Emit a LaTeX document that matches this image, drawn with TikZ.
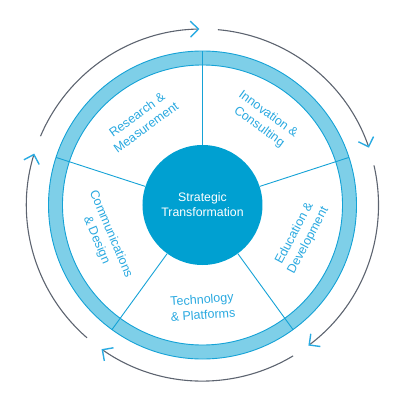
\documentclass[tikz,border=0pt]{standalone}
\usepackage{fontspec}
\setmainfont{Liberation Sans}
\usetikzlibrary{arrows.meta}
\definecolor{corefill}{HTML}{00A0D1}
\definecolor{bandfill}{HTML}{7ECFE8}
\definecolor{rimblue}{HTML}{15A2D6}
\definecolor{labelblue}{HTML}{2AA9E0}
\definecolor{arcgray}{HTML}{5D6470}
\definecolor{tipblue}{HTML}{29ABE2}
\tikzset{
  rim/.style={draw=rimblue, line width=0.9pt},
  corestyle/.style={circle, fill=corefill, minimum size=120pt, inner sep=0pt, text=white, align=center, font=\fontsize{12.3}{15}\selectfont},
  segtext/.style={text=labelblue, align=center, font=\fontsize{12.5}{15.5}\selectfont, inner sep=0pt},
  cyclearc/.style={draw=arcgray, line width=1.1pt, -{Straight Barb[color=tipblue, length=8pt, width=16pt, line width=1.4pt]}}
}
\begin{document}
\begin{tikzpicture}[x=1pt,y=1pt]
\useasboundingbox (-202.5,-195) rectangle (197.5,205);
\coordinate (c) at (0,0);
% ring band
\fill[bandfill, even odd rule] (c) circle[radius=154] (c) circle[radius=140];
\draw[rim] (c) circle[radius=154];
\draw[rim] (c) circle[radius=140];
% divider end points
\coordinate (o1) at (90:154);
\coordinate (o2) at (18:154);
\coordinate (o3) at (-54:154);
\coordinate (o4) at (-126:154);
\coordinate (o5) at (162:154);
% core
\node[corestyle] (core) at (c) {Strategic\\Transformation};
\foreach \i in {1,...,5} \draw[rim] (core) -- (o\i);
% labels
\node[segtext, rotate=36] (research) at (126:104) {Research \&\\Measurement};
\node[segtext, rotate=-36] (innovation) at (54:104) {Innovation \&\\Consulting};
\node[segtext, rotate=62] (education) at (-18:104) {Education \&\\Development};
\node[segtext, rotate=4] (technology) at (-90:102) {Technology\\\& Platforms};
\node[segtext, rotate=-67] (communications) at (198:104) {Communications\\\& Design};
% cycle arcs
\draw[cyclearc] ([shift={(157:176)}]c) arc[start angle=157, end angle=91, radius=176];
\draw[cyclearc] ([shift={(85:176)}]c) arc[start angle=85, end angle=19, radius=176];
\draw[cyclearc] ([shift={(13:176)}]c) arc[start angle=13, end angle=-53, radius=176];
\draw[cyclearc] ([shift={(-59:176)}]c) arc[start angle=-59, end angle=-125, radius=176];
\draw[cyclearc] ([shift={(-131:176)}]c) arc[start angle=-131, end angle=-197, radius=176];
\end{tikzpicture}
\end{document}
